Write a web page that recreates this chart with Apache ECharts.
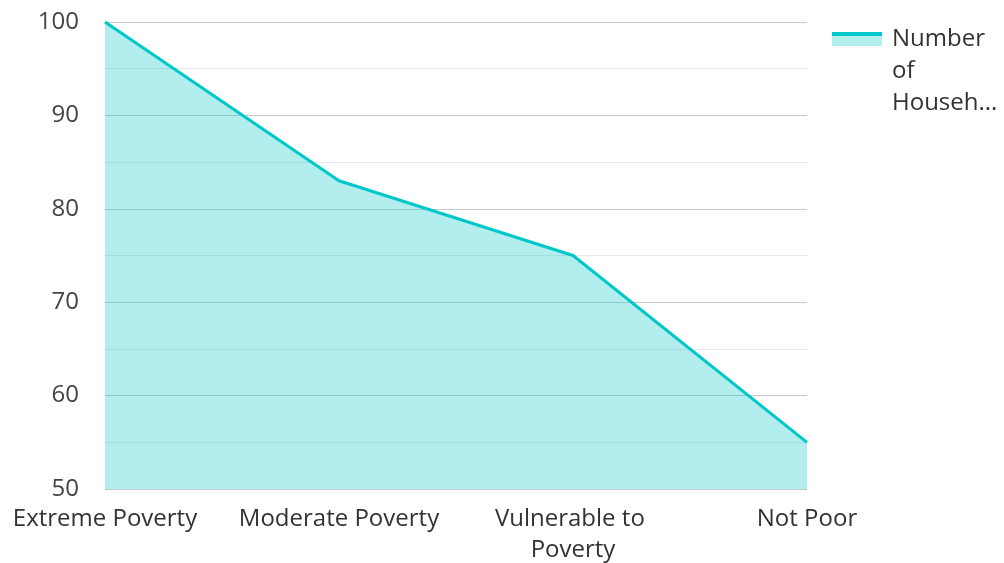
<!DOCTYPE html>
<html>
<head>
<meta charset="utf-8">
<script src="https://cdn.jsdelivr.net/npm/echarts@6/dist/echarts.min.js"></script>
<style>
html,body{margin:0;padding:0;background:#fff;}
#chart{width:1004px;height:563px;}
</style>
</head>
<body>
<div id="chart"></div>
<script>
const categories = ['Extreme Poverty', 'Moderate Poverty', 'Vulnerable to Poverty', 'Not Poor'];
const seriesName = 'Number of Households';
const values = [100, 83, 75, 55];
const yMin = 50, yMax = 100, yInterval = 10;

const chart = echarts.init(document.getElementById('chart'));
const font = '"Open Sans", "Noto Sans", sans-serif';
chart.setOption({
  animation: false,
  grid: { left: 105, right: 197, top: 22, bottom: 74, containLabel: false, outerBoundsMode: 'none' },
  legend: {
    orient: 'vertical',
    left: 827,
    top: -46,
    itemWidth: 50,
    itemHeight: 14,
    itemGap: 10,
    icon: 'rect',
    itemStyle: {
      color: {
        type: 'linear', x: 0, y: 0, x2: 0, y2: 1,
        colorStops: [
          { offset: 0, color: '#00c8c8' },
          { offset: 0.3, color: '#00c8c8' },
          { offset: 0.3, color: '#b2efee' },
          { offset: 1, color: '#b2efee' }
        ]
      }
    },
    formatter: function () { return '\n\nNumber\nof\nHouseh...'; },
    textStyle: { fontFamily: font, fontSize: 24, color: '#333', lineHeight: 32, padding: [0, 0, 0, 5] }
  },
  xAxis: {
    type: 'category',
    data: categories,
    boundaryGap: false,
    axisLine: { show: false },
    axisTick: { show: false },
    axisLabel: {
      fontFamily: font, fontSize: 24, color: '#333', margin: 15, lineHeight: 31,
      width: 225, overflow: 'break', interval: 0
    },
    splitLine: { show: false }
  },
  yAxis: {
    type: 'value',
    min: yMin, max: yMax, interval: yInterval,
    axisLine: { show: false },
    axisTick: { show: false },
    axisLabel: { fontFamily: font, fontSize: 24, color: '#444', margin: 26 },
    splitLine: { show: true, lineStyle: { color: '#c8c8c8', width: 1 } },
    minorTick: { show: false, splitNumber: 2 },
    minorSplitLine: { show: true, lineStyle: { color: '#e8e8e8', width: 1 } }
  },
  series: [{
    name: seriesName,
    type: 'line',
    data: values,
    symbol: 'none',
    lineStyle: { color: '#00c8c8', width: 3 },
    itemStyle: { color: '#00c8c8' },
    areaStyle: { color: '#00c8c8', opacity: 0.3 }
  }]
});
</script>
</body>
</html>
